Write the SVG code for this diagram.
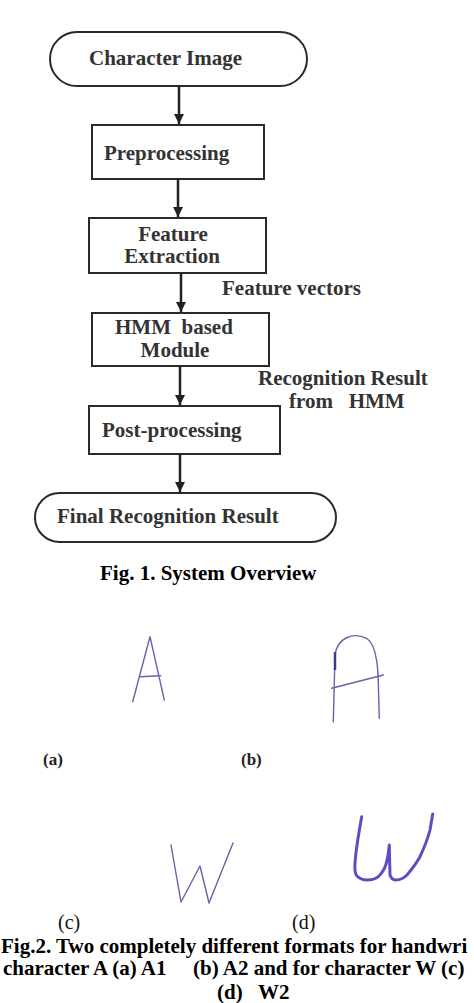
<svg xmlns="http://www.w3.org/2000/svg" width="474" height="1003" viewBox="0 0 474 1003">
<defs>
<marker id="ah" viewBox="0 0 10 10" refX="10" refY="5" markerWidth="4" markerHeight="4" markerUnits="strokeWidth" orient="auto">
<path d="M0,0 L10,5 L0,10 z" fill="#222"/>
</marker>
<style>
.box{fill:#fff;stroke:#2a2a2a;stroke-width:2}
.t{font-family:"Liberation Serif","Times New Roman",serif;font-weight:bold;font-size:21px;fill:#333}
.cap{font-family:"Liberation Serif","Times New Roman",serif;font-weight:bold;font-size:21px;fill:#000}
.reg{font-family:"Liberation Serif","Times New Roman",serif;font-size:20px;fill:#111}
.lbl{font-family:"Liberation Serif","Times New Roman",serif;font-weight:bold;font-size:17px;fill:#222}
.conn{stroke:#222;stroke-width:2.5;fill:none;marker-end:url(#ah)}
.pen{fill:none;stroke:#6464aa;stroke-width:1.4;stroke-linecap:round;stroke-linejoin:round}
.pen2{fill:none;stroke:#5a4fc0;stroke-width:3;stroke-linecap:round;stroke-linejoin:round}
</style>
</defs>
<rect width="474" height="1003" fill="#fff"/>

<g id="n-character-image">
<rect class="box" x="50" y="32" width="257" height="54" rx="27" ry="27"/>
<text class="t" x="89" y="65">Character Image</text>
</g>
<g id="n-preprocessing">
<rect class="box" x="92" y="125" width="172" height="54"/>
<text class="t" x="104" y="160">Preprocessing</text>
</g>
<g id="n-feature-extraction">
<rect class="box" x="89" y="218" width="177" height="55"/>
<text class="t" x="173" y="241" text-anchor="middle">Feature</text>
<text class="t" x="172" y="263" text-anchor="middle">Extraction</text>
</g>
<g id="n-hmm">
<rect class="box" x="92" y="313" width="177" height="53"/>
<text class="t" x="115" y="334" xml:space="preserve">HMM  based</text>
<text class="t" x="175" y="357" text-anchor="middle">Module</text>
</g>
<g id="n-post">
<rect class="box" x="89" y="406" width="191" height="48"/>
<text class="t" x="102" y="437">Post-processing</text>
</g>
<g id="n-final">
<rect class="box" x="35" y="493" width="301" height="49" rx="24.5" ry="24.5"/>
<text class="t" x="57" y="523">Final Recognition Result</text>
</g>

<g id="connectors">
<line class="conn" x1="179" y1="86" x2="179" y2="124"/>
<line class="conn" x1="178" y1="179" x2="178" y2="217"/>
<line class="conn" x1="181" y1="273" x2="181" y2="312"/>
<line class="conn" x1="180" y1="366" x2="180" y2="405"/>
<line class="conn" x1="180" y1="454" x2="180" y2="492"/>
<text class="t" x="222" y="295">Feature vectors</text>
<text class="t" x="258" y="385">Recognition Result</text>
<text class="t" x="289" y="408" xml:space="preserve">from   HMM</text>
</g>

<text class="cap" x="100" y="580">Fig. 1. System Overview</text>

<g id="fig2">
<path class="pen" d="M132.7,701.7 L150,636.7 L164.3,700 M140.7,676.7 L160.7,675.7"/>
<path class="pen" d="M335,655 L333.3,721.7 M335,655 C336,648 340,641 346,638 C352,635 360,635 366.7,638.3 C372,642 375,650 376.5,660 C378,668 378.3,675 378.5,690 L379.3,718.3 M331.7,688.3 L383.3,675"/>
<path d="M335,652 L335,670" stroke="#3a3a90" stroke-width="2.5" fill="none"/>
<text class="lbl" x="43" y="765">(a)</text>
<text class="lbl" x="241" y="765">(b)</text>

<path class="pen" d="M171,845 L181,902 L200,866 L209,903 L233,843"/>
<path class="pen2" d="M361.7,816.7 C359,832 356,848 355,863 C354.5,870 355,874 357,876 C360,879 363,880 367,880 C372,880 376,879 379,876 C383,872 386,866 387,860 C388.5,854 389,848 389.3,845 C389.5,855 389.7,866 390,875 C391,878 393,880 396,880 C400,880 404,878 407,875 C412,869 417,862 420,856.7 C424,848 428,838 430,830 C431,824 432,818 432.7,814"/>
<text class="reg" x="58" y="929">(c)</text>
<text class="reg" x="292" y="929">(d)</text>

<text class="cap" x="1" y="953">Fig.2. Two completely different formats for handwri</text>
<text class="cap" x="3" y="975">character A (a) A1</text>
<text class="cap" x="193" y="975">(b) A2 and for character W (c)</text>
<text class="cap" x="217" y="999" font-size="16" xml:space="preserve">(d)   W2</text>
</g>
</svg>
